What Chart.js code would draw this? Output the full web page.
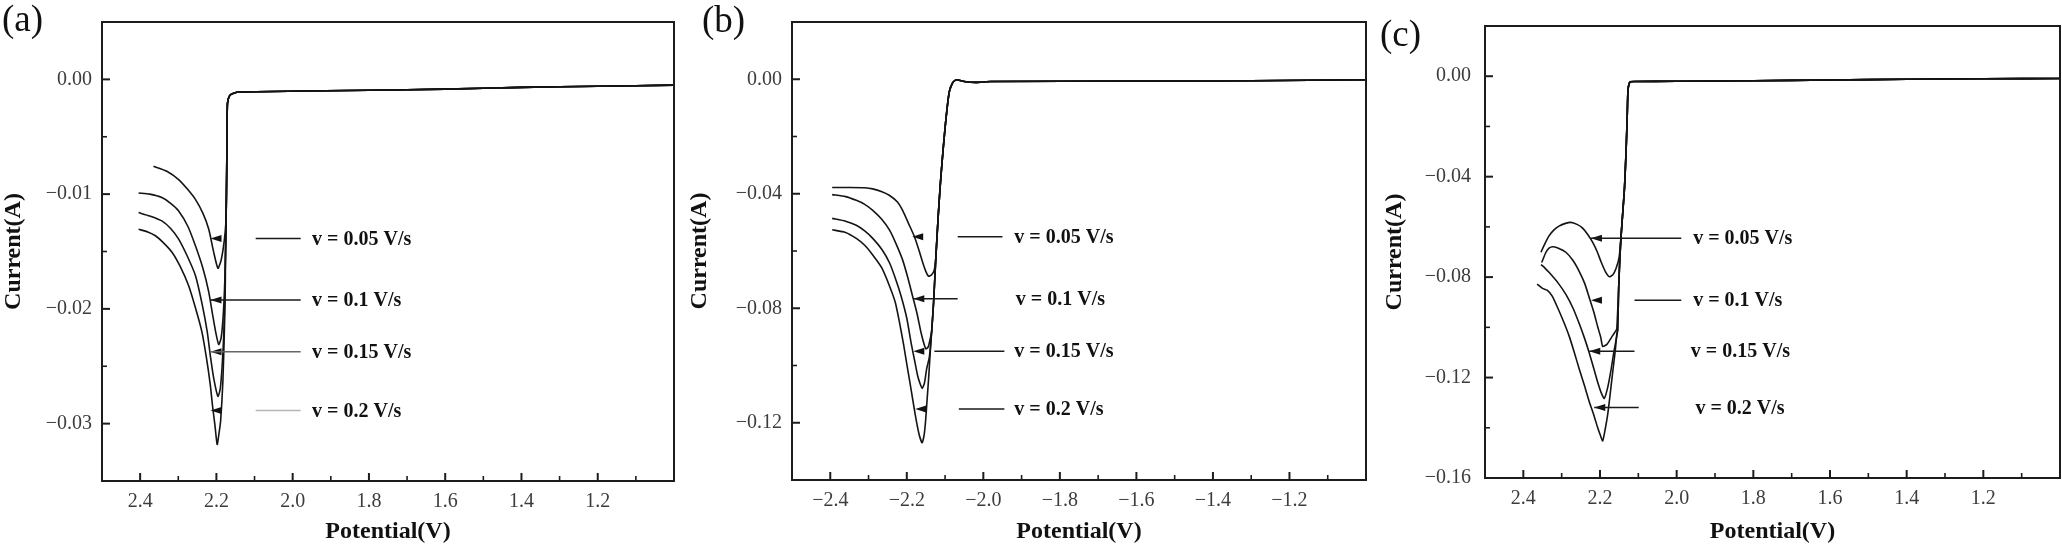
<!DOCTYPE html>
<html><head><meta charset="utf-8">
<script src="https://cdn.jsdelivr.net/npm/chart.js@4.4.1/dist/chart.umd.min.js"></script>
<style>
html,body{margin:0;padding:0;background:#fff;}
#wrap{position:relative;width:2062px;height:546px;overflow:hidden;background:#fff;}
canvas{position:absolute;top:0;}
</style></head><body>
<div id="wrap">
<canvas id="ca" width="686" height="546" style="left:0px;width:686px;height:546px"></canvas>
<canvas id="cb" width="684" height="546" style="left:686px;width:684px;height:546px"></canvas>
<canvas id="cc" width="692" height="546" style="left:1370px;width:692px;height:546px"></canvas>
</div>
<script>
// ---------- labels ----------
const seriesLabels = ['v = 0.05 V/s', 'v = 0.1 V/s', 'v = 0.15 V/s', 'v = 0.2 V/s'];
const panelLetters = ['(a)', '(b)', '(c)'];
const xTitle = 'Potential(V)';
const yTitle = 'Current(A)';

// ---------- panel (a) ----------
const aTicksX = [2.4, 2.2, 2.0, 1.8, 1.6, 1.4, 1.2];
const aTicksY = [0, -0.01, -0.02, -0.03];
const aPot05 = [2.365, 2.33, 2.299, 2.275, 2.255, 2.235, 2.22, 2.207, 2.196, 2.188, 2.182, 2.177];
const aCur05 = [-0.00757, -0.0080, -0.00873, -0.0096, -0.01046, -0.0117, -0.01306, -0.01508, -0.01646, -0.0158, -0.0147, -0.0133];
const aPot10 = [2.404, 2.375, 2.343, 2.32, 2.299, 2.275, 2.255, 2.235, 2.22, 2.21, 2.202, 2.194, 2.188, 2.183, 2.179];
const aCur10 = [-0.0099, -0.0100, -0.0103, -0.0108, -0.01147, -0.0128, -0.0145, -0.0165, -0.01854, -0.0205, -0.022, -0.0231, -0.0226, -0.0210, -0.0185];
const aPot15 = [2.404, 2.375, 2.343, 2.32, 2.299, 2.275, 2.255, 2.238, 2.224, 2.215, 2.207, 2.196, 2.19, 2.185, 2.181, 2.178];
const aCur15 = [-0.01161, -0.0119, -0.01233, -0.0130, -0.01392, -0.0155, -0.0171, -0.0195, -0.022, -0.0243, -0.02605, -0.02763, -0.0270, -0.0250, -0.0225, -0.0195];
const aPot20 = [2.404, 2.38, 2.36, 2.34, 2.316, 2.295, 2.273, 2.255, 2.238, 2.226, 2.216, 2.21, 2.204, 2.198, 2.193, 2.189, 2.183, 2.179, 2.1765];
const aCur20 = [-0.01306, -0.0133, -0.01363, -0.0142, -0.01508, -0.0163, -0.01796, -0.0199, -0.022, -0.0243, -0.02662, -0.0285, -0.03008, -0.03182, -0.0308, -0.0298, -0.0263, -0.0218, -0.0175];
const aTailPot = [2.1765, 2.1745, 2.173, 2.172, 2.171, 2.165, 2.155, 2.138, 1.8, 1.6, 1.4, 1.2, 1.0];
const aTailCur = [-0.016, -0.012, -0.008, -0.0046, -0.0021, -0.0014, -0.0012, -0.0011, -0.00095, -0.00085, -0.0007, -0.0006, -0.0005];
const aNoteCur = [-0.01386, -0.01923, -0.02374, -0.02885];
const aNoteTip = [2.2155, 2.2155, 2.2155, 2.2155];
const aNoteFrom = [2.097, 2.2155, 2.2155, 2.097];
const aNoteTo = [1.979, 1.979, 1.979, 1.979];
const aNoteText = [1.949, 1.949, 1.949, 1.949];

// ---------- panel (b) ----------
const bTicksX = [-2.4, -2.2, -2.0, -1.8, -1.6, -1.4, -1.2];
const bTicksY = [0, -0.04, -0.08, -0.12];
const bPot05 = [-2.395, -2.35, -2.31, -2.289, -2.265, -2.245, -2.225, -2.211, -2.195, -2.18, -2.168, -2.158, -2.15, -2.143, -2.135, -2.128];
const bCur05 = [-0.0378, -0.0378, -0.0379, -0.0383, -0.0393, -0.0406, -0.0428, -0.0458, -0.0505, -0.055, -0.0598, -0.0642, -0.0672, -0.0688, -0.0683, -0.0665];
const bPot10 = [-2.395, -2.36, -2.332, -2.31, -2.289, -2.265, -2.245, -2.228, -2.211, -2.198, -2.185, -2.173, -2.163, -2.155, -2.15, -2.144, -2.137];
const bCur10 = [-0.0403, -0.041, -0.0423, -0.0437, -0.0458, -0.049, -0.0527, -0.0575, -0.0631, -0.069, -0.0757, -0.082, -0.0884, -0.0925, -0.0942, -0.0935, -0.0895];
const bPot15 = [-2.395, -2.36, -2.332, -2.31, -2.289, -2.265, -2.245, -2.23, -2.215, -2.2, -2.189, -2.18, -2.172, -2.165, -2.16, -2.154, -2.148, -2.141];
const bCur15 = [-0.0486, -0.0496, -0.051, -0.053, -0.0556, -0.0595, -0.0642, -0.0695, -0.0757, -0.0835, -0.0919, -0.098, -0.1034, -0.1065, -0.108, -0.1062, -0.1011, -0.097];
const bPot20 = [-2.395, -2.36, -2.332, -2.31, -2.289, -2.265, -2.245, -2.23, -2.219, -2.208, -2.198, -2.188, -2.178, -2.168, -2.16, -2.155, -2.151, -2.147, -2.143];
const bCur20 = [-0.0526, -0.0535, -0.0556, -0.058, -0.0614, -0.066, -0.0723, -0.078, -0.085, -0.093, -0.1011, -0.109, -0.1172, -0.124, -0.127, -0.1245, -0.1195, -0.112, -0.1046];
const bTailPot = [-2.140, -2.135, -2.130, -2.124, -2.118, -2.112, -2.106, -2.100, -2.095, -2.089, -2.080, -2.071, -2.05, -2.02, -1.98, -1.6, -1.3, -1.0];
const bTailCur = [-0.098, -0.088, -0.078, -0.062, -0.048, -0.036, -0.026, -0.017, -0.0105, -0.0044, -0.0012, -0.0002, -0.0008, -0.0011, -0.0008, -0.0006, -0.0005, -0.0002];
const bNoteCur = [-0.055, -0.0767, -0.095, -0.1152];
const bNoteTip = [-2.186, -2.183, -2.183, -2.178];
const bNoteFrom = [-2.067, -2.183, -2.128, -2.064];
const bNoteTo = [-1.95, -2.067, -1.945, -1.945];
const bNoteText = [-1.919, -1.915, -1.919, -1.919];

// ---------- panel (c) ----------
const cTicksX = [2.4, 2.2, 2.0, 1.8, 1.6, 1.4, 1.2];
const cTicksY = [0, -0.04, -0.08, -0.12, -0.16];
const cPot05 = [2.354, 2.343, 2.333, 2.32, 2.307, 2.29, 2.276, 2.26, 2.246, 2.232, 2.219, 2.207, 2.197, 2.186, 2.176, 2.167, 2.158, 2.150];
const cCur05 = [-0.0701, -0.0665, -0.0636, -0.0612, -0.0597, -0.0586, -0.0582, -0.059, -0.0604, -0.063, -0.0662, -0.070, -0.074, -0.0778, -0.0798, -0.0792, -0.0765, -0.0720];
const cPot10 = [2.352, 2.341, 2.333, 2.324, 2.31, 2.289, 2.27, 2.254, 2.24, 2.228, 2.216, 2.206, 2.198, 2.193, 2.182, 2.17, 2.158, 2.156];
const cCur10 = [-0.0742, -0.0701, -0.0685, -0.0679, -0.0684, -0.0701, -0.0735, -0.0778, -0.0825, -0.0882, -0.094, -0.0998, -0.104, -0.1076, -0.1068, -0.104, -0.1012, -0.1005];
const cPot15 = [2.354, 2.343, 2.333, 2.31, 2.289, 2.27, 2.254, 2.24, 2.228, 2.217, 2.206, 2.197, 2.189, 2.18, 2.171, 2.164, 2.158, 2.154];
const cCur15 = [-0.0750, -0.0765, -0.0781, -0.0822, -0.0869, -0.0925, -0.0986, -0.1045, -0.1102, -0.116, -0.1219, -0.126, -0.1283, -0.124, -0.1167, -0.110, -0.105, -0.1012];
const cPot20 = [2.364, 2.35, 2.338, 2.325, 2.307, 2.293, 2.28, 2.267, 2.254, 2.24, 2.228, 2.216, 2.206, 2.199, 2.193, 2.187, 2.18, 2.173, 2.166, 2.16, 2.156];
const cCur20 = [-0.0828, -0.0845, -0.0852, -0.0875, -0.0934, -0.0985, -0.1037, -0.110, -0.1167, -0.1235, -0.1296, -0.135, -0.14, -0.143, -0.1452, -0.141, -0.1348, -0.126, -0.1167, -0.109, -0.1024];
const cTailPot = [2.154, 2.151, 2.148, 2.145, 2.140, 2.136, 2.132, 2.129, 2.127, 2.124, 2.121, 2.11, 2.0, 1.8, 1.6, 1.4, 1.2, 1.0];
const cTailCur = [-0.1012, -0.083, -0.072, -0.0636, -0.053, -0.0442, -0.030, -0.016, -0.0054, -0.0030, -0.0022, -0.0021, -0.0020, -0.0018, -0.0015, -0.0012, -0.0010, -0.0009];
const cNoteCur = [-0.0645, -0.0892, -0.1095, -0.1319];
const cNoteTip = [2.2236, 2.2236, 2.228, 2.215];
const cNoteFrom = [2.2236, 2.110, 2.228, 2.215];
const cNoteTo = [1.988, 1.988, 2.110, 2.099];
const cNoteText = [1.957, 1.957, 1.963, 1.951];

// ---------- helpers ----------
function buildSeries(pot, cur, tailPot, tailCur) {
  const pts = pot.map((v, i) => ({x: v, y: cur[i]}));
  const last = cur[cur.length - 1];
  tailPot.forEach((v, i) => { if (tailCur[i] > last) pts.push({x: v, y: tailCur[i]}); });
  return pts;
}
function ds(points) {
  return {data: points, showLine: true, borderColor: '#141414', borderWidth: 1.6,
          pointRadius: 0, tension: 0.2, fill: false};
}
const fmt = (d) => (v) => { const s = Number(v).toFixed(d); return s.replace('-', '\u2212'); };

const decor = {
  id: 'decor',
  afterDatasetsDraw(chart, args, o) {
    const {ctx, chartArea: ca} = chart;
    const xs = chart.scales.x, ys = chart.scales.y;
    ctx.save();
    // frame
    ctx.strokeStyle = '#1c1c1c';
    ctx.lineWidth = 2;
    ctx.strokeRect(ca.left, ca.top, ca.right - ca.left, ca.bottom - ca.top);
    // inward ticks
    const tickSet = (scale) => {
      const vals = scale.ticks.map(t => t.value);
      const step = vals[1] - vals[0];
      const minors = [vals[0] - step / 2].concat(vals.map(v => v + step / 2))
        .filter(v => v > scale.min + 1e-9 && v < scale.max - 1e-9);
      return {vals, minors};
    };
    const tx = tickSet(xs), ty = tickSet(ys);
    ctx.lineWidth = 2;
    tx.vals.forEach(v => { const p = xs.getPixelForValue(v); ctx.beginPath(); ctx.moveTo(p, ca.bottom); ctx.lineTo(p, ca.bottom - 8); ctx.stroke(); });
    ty.vals.forEach(v => { const p = ys.getPixelForValue(v); ctx.beginPath(); ctx.moveTo(ca.left, p); ctx.lineTo(ca.left + 8, p); ctx.stroke(); });
    ctx.lineWidth = 1.6;
    tx.minors.forEach(v => { const p = xs.getPixelForValue(v); ctx.beginPath(); ctx.moveTo(p, ca.bottom); ctx.lineTo(p, ca.bottom - 5); ctx.stroke(); });
    ty.minors.forEach(v => { const p = ys.getPixelForValue(v); ctx.beginPath(); ctx.moveTo(ca.left, p); ctx.lineTo(ca.left + 5, p); ctx.stroke(); });
    // annotations
    const n = o.notes;
    ctx.font = 'bold 20px "Liberation Serif"';
    ctx.textBaseline = 'middle';
    ctx.textAlign = 'left';
    n.cur.forEach((c, i) => {
      const py = ys.getPixelForValue(c);
      const tip = xs.getPixelForValue(n.tip[i]);
      ctx.fillStyle = '#111';
      ctx.beginPath(); ctx.moveTo(tip, py); ctx.lineTo(tip + 11, py - 3.5); ctx.lineTo(tip + 11, py + 3.5); ctx.closePath(); ctx.fill();
      ctx.strokeStyle = n.colors[i];
      ctx.lineWidth = 1.5;
      ctx.beginPath(); ctx.moveTo(xs.getPixelForValue(n.from[i]), py); ctx.lineTo(xs.getPixelForValue(n.to[i]), py); ctx.stroke();
      ctx.fillStyle = '#111';
      ctx.fillText(seriesLabels[i], xs.getPixelForValue(n.text[i]), py + 1);
    });
    // panel letter
    ctx.font = '37px "Liberation Serif"';
    ctx.textBaseline = 'alphabetic';
    ctx.fillStyle = '#111';
    ctx.fillText(o.letter, o.lx, o.ly);
    ctx.restore();
  }
};

function makeChart(id, series, L) {
  return new Chart(document.getElementById(id), {
    type: 'scatter',
    data: {datasets: series.map(ds)},
    options: {
      responsive: false, animation: false, events: [],
      layout: {padding: {top: L.padTop, right: L.padRight, left: 0, bottom: 0}},
      plugins: {legend: {display: false}, tooltip: {enabled: false},
        decor: {notes: L.notes, letter: L.letter, lx: L.lx, ly: L.ly}},
      scales: {
        x: {type: 'linear', min: L.xMin, max: L.xMax, reverse: L.reverse,
            afterBuildTicks: (s) => { s.ticks = L.ticksX.map(v => ({value: v})); },
            afterFit: (s) => { s.height = L.bottomH; },
            grid: {display: false, drawTicks: false}, border: {display: false},
            ticks: {callback: fmt(1), padding: 9, color: '#3c3c3c', maxRotation: 0, autoSkip: false,
                    font: {family: '"Liberation Serif"', size: 20}},
            title: {display: true, text: xTitle, color: '#111', padding: {top: 0, bottom: 2},
                    font: {family: '"Liberation Serif"', size: 24, weight: 'bold', lineHeight: 1}}},
        y: {type: 'linear', min: L.yMin, max: L.yMax,
            afterBuildTicks: (s) => { s.ticks = L.ticksY.map(v => ({value: v})); },
            afterFit: (s) => { s.width = L.leftW; },
            grid: {display: false, drawTicks: false}, border: {display: false},
            ticks: {callback: fmt(2), padding: L.yLabPad, color: '#3c3c3c', autoSkip: false,
                    font: {family: '"Liberation Serif"', size: 20}},
            title: {display: true, text: yTitle, color: '#111', padding: {top: L.yTitlePad, bottom: 0},
                    font: {family: '"Liberation Serif"', size: 24, weight: 'bold', lineHeight: 1}}}
      }
    },
    plugins: [decor]
  });
}

makeChart('ca', [
  buildSeries(aPot05, aCur05, aTailPot, aTailCur),
  buildSeries(aPot10, aCur10, aTailPot, aTailCur),
  buildSeries(aPot15, aCur15, aTailPot, aTailCur),
  buildSeries(aPot20, aCur20, aTailPot, aTailCur)
], {xMin: 1.0, xMax: 2.5, reverse: true, yMin: -0.035, yMax: 0.005, ticksX: aTicksX, ticksY: aTicksY,
    leftW: 102, bottomH: 65, padTop: 19, padRight: 12, yLabPad: 10, yTitlePad: 2,
    letter: panelLetters[0], lx: 2, ly: 31,
    notes: {cur: aNoteCur, tip: aNoteTip, from: aNoteFrom, to: aNoteTo, text: aNoteText,
            colors: ['#1a1a1a', '#1a1a1a', '#666', '#b5b5b5']}});

makeChart('cb', [
  buildSeries(bPot05, bCur05, bTailPot, bTailCur),
  buildSeries(bPot10, bCur10, bTailPot, bTailCur),
  buildSeries(bPot15, bCur15, bTailPot, bTailCur),
  buildSeries(bPot20, bCur20, bTailPot, bTailCur)
], {xMin: -2.5, xMax: -1.0, reverse: false, yMin: -0.14, yMax: 0.02, ticksX: bTicksX, ticksY: bTicksY,
    leftW: 106, bottomH: 66, padTop: 16, padRight: 4, yLabPad: 10, yTitlePad: 2,
    letter: panelLetters[1], lx: 16, ly: 32,
    notes: {cur: bNoteCur, tip: bNoteTip, from: bNoteFrom, to: bNoteTo, text: bNoteText,
            colors: ['#1a1a1a', '#1a1a1a', '#1a1a1a', '#1a1a1a']}});

makeChart('cc', [
  buildSeries(cPot05, cCur05, cTailPot, cTailCur),
  buildSeries(cPot10, cCur10, cTailPot, cTailCur),
  buildSeries(cPot15, cCur15, cTailPot, cTailCur),
  buildSeries(cPot20, cCur20, cTailPot, cTailCur)
], {xMin: 1.0, xMax: 2.5, reverse: true, yMin: -0.16, yMax: 0.02, ticksX: cTicksX, ticksY: cTicksY,
    leftW: 115, bottomH: 68, padTop: 14, padRight: 2, yLabPad: 14, yTitlePad: 13,
    letter: panelLetters[2], lx: 10, ly: 46,
    notes: {cur: cNoteCur, tip: cNoteTip, from: cNoteFrom, to: cNoteTo, text: cNoteText,
            colors: ['#1a1a1a', '#1a1a1a', '#1a1a1a', '#1a1a1a']}});
</script>
</body></html>
